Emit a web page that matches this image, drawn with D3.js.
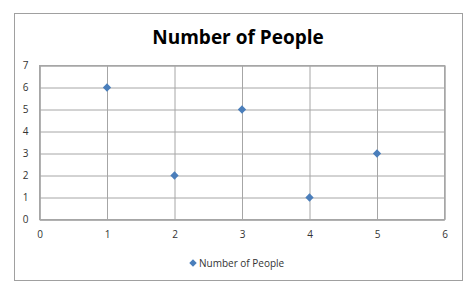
<!DOCTYPE html>
<html>
<head>
<meta charset="utf-8" />
<title>Number of People</title>
<style>
body { margin: 0; background: #fff; }
#graph { width: 474px; height: 294px; font-family: "Open Sans", Arial, sans-serif; }
.tick text { fill: #333; font-size: 10px; }
</style>
</head>
<body>
<div id="graph"></div>
<script src="https://cdnjs.cloudflare.com/ajax/libs/d3/7.8.5/d3.min.js"></script>
<script>
var xValues = [1, 2, 3, 4, 5]
var peopleValues = [6, 2, 5, 1, 3]
var xTicks = [0, 1, 2, 3, 4, 5, 6]
var yTicks = [0, 1, 2, 3, 4, 5, 6, 7]
var seriesName = "Number of People"
var titleText = "Number of People"

!(function(){
    "use strict"

    var width = 474, height = 294
    var margin = {top: 65.5, left: 39.5, bottom: 74.5, right: 29.5}
    var chartWidth = width - margin.left - margin.right
    var chartHeight = height - margin.top - margin.bottom
    var gridColor = "#a6a6a6"
    var markColor = "#4a7ebb"

    var svg = d3.select("#graph").append("svg")
        .attr("width", width).attr("height", height)

    // outer chart border
    svg.append("rect")
        .attr("x", 14.5).attr("y", 13.5)
        .attr("width", 448).attr("height", 267)
        .attr("fill", "#fff")
        .attr("stroke", "#a0a0a0")

    svg.append("text")
        .attr("x", 238).attr("y", 44)
        .attr("text-anchor", "middle")
        .attr("font-size", "19px")
        .attr("font-weight", "bold")
        .attr("fill", "#000")
        .text(titleText)

    var xScale = d3.scaleLinear().domain([0, 6]).range([0, chartWidth])
    var yScale = d3.scaleLinear().domain([0, 7]).range([chartHeight, 0])

    var chartLayer = svg.append("g")
        .attr("transform", "translate(" + [margin.left, margin.top] + ")")

    var yAxis = d3.axisLeft(yScale).tickValues(yTicks).tickFormat(d3.format("d"))
        .tickSize(-chartWidth).tickPadding(11)
    var xAxis = d3.axisBottom(xScale).tickValues(xTicks).tickFormat(d3.format("d"))
        .tickSize(-chartHeight).tickPadding(11)

    var gy = chartLayer.append("g").call(yAxis)
    var gx = chartLayer.append("g").attr("transform", "translate(0," + chartHeight + ")").call(xAxis)

    ;[gx, gy].forEach(function(g){
        g.select(".domain").attr("stroke", gridColor)
        g.selectAll(".tick line").attr("stroke", gridColor)
        g.selectAll(".tick text").attr("font-family", "'Open Sans', Arial, sans-serif")
    })

    chartLayer.append("rect")
        .attr("width", chartWidth).attr("height", chartHeight)
        .attr("fill", "none").attr("stroke", gridColor)

    var diamond = d3.symbol().type(d3.symbolDiamond2).size(44)

    chartLayer.selectAll(".pt").data(xValues).enter().append("path")
        .attr("class", "pt")
        .attr("d", diamond)
        .attr("fill", markColor)
        .attr("transform", function(d, i){ return "translate(" + [xScale(d), yScale(peopleValues[i])] + ")" })

    // legend
    var legend = svg.append("g").attr("transform", "translate(193,263)")
    legend.append("path").attr("d", d3.symbol().type(d3.symbolDiamond2).size(36)).attr("fill", markColor)
    legend.append("text").attr("x", 6).attr("y", 3.5)
        .attr("font-size", "10px").attr("fill", "#333")
        .text(seriesName)
}());
</script>
</body>
</html>
